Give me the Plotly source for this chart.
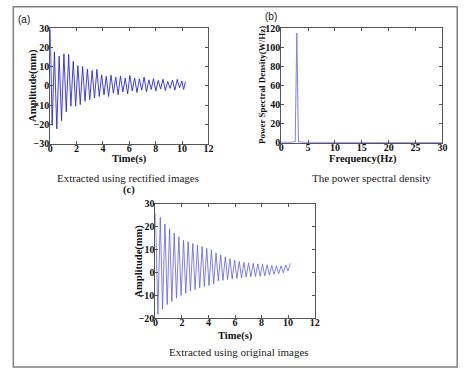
import plotly.graph_objects as go

W, H = 474, 388

# ---------------- data ----------------
# (a) extracted using rectified images: extrema of the displacement signal
a_start_t = [0.0]
a_start_v = [29.5]
a_peak_t = [0.32, 0.68, 1.04, 1.40, 1.75, 2.10, 2.46, 2.82, 3.18, 3.54, 3.90, 4.25, 4.61, 4.97,
            5.33, 5.69, 6.04, 6.40, 6.76, 7.12, 7.48, 7.83, 8.19, 8.55, 8.91, 9.27, 9.63, 9.98, 10.25]
a_peak_v = [17.7, 15.5, 16.7, 16.4, 12.8, 10.6, 10.1, 8.8, 8.0, 8.6, 5.8, 5.0, 5.6, 4.6,
            5.2, 4.1, 5.5, 4.2, 3.6, 4.6, 3.2, 3.8, 2.9, 3.5, 2.4, 3.0, 3.4, 2.6, 2.2]
a_trough_t = [0.15, 0.50, 0.86, 1.22, 1.57, 1.93, 2.28, 2.64, 3.00, 3.36, 3.72, 4.08, 4.43, 4.79,
              5.15, 5.51, 5.87, 6.22, 6.58, 6.94, 7.30, 7.66, 8.01, 8.37, 8.73, 9.09, 9.45, 9.81, 10.12]
a_trough_v = [-20.5, -22.3, -18.1, -13.5, -10.5, -10.5, -9.7, -8.0, -7.2, -6.3, -5.5, -4.6, -5.5, -3.8,
              -4.6, -3.2, -4.2, -2.6, -3.4, -2.2, -3.0, -1.8, -2.6, -1.6, -2.4, -1.3, -2.2, -1.0, -1.8]

# (b) power spectral density
psd_f = [0.0, 1.0, 2.0, 2.6, 2.9, 3.2, 4.0, 10.0, 20.0, 30.0]
psd_v = [0.4, 0.3, 0.4, 1.0, 115.0, 1.0, 0.4, 0.2, 0.1, 0.1]

# (c) extracted using original images
c_start_t = [0.0]
c_start_v = [26.0]
c_peak_t = [0.37, 0.72, 1.07, 1.42, 1.77, 2.12, 2.47, 2.82, 3.17, 3.52, 3.87, 4.22, 4.57, 4.92,
            5.27, 5.62, 5.97, 6.32, 6.67, 7.02, 7.37, 7.72, 8.07, 8.42, 8.77, 9.12, 9.47, 9.82, 10.17]
c_peak_v = [24.0, 21.1, 19.0, 17.2, 15.5, 14.0, 13.3, 12.6, 11.9, 11.2, 10.5, 9.8, 8.4, 7.6,
            6.8, 6.0, 5.3, 4.8, 4.4, 4.1, 3.9, 3.7, 3.5, 3.3, 3.0, 2.8, 2.8, 3.2, 3.9]
c_trough_t = [0.19, 0.54, 0.89, 1.24, 1.59, 1.94, 2.29, 2.64, 2.99, 3.34, 3.69, 4.04, 4.39, 4.74,
              5.09, 5.44, 5.79, 6.14, 6.49, 6.84, 7.19, 7.54, 7.89, 8.24, 8.59, 8.94, 9.29, 9.64, 9.99]
c_trough_v = [-18.4, -16.2, -14.1, -12.7, -11.3, -10.1, -9.2, -8.2, -7.6, -6.8, -6.2, -5.8, -5.1, -3.7,
              -3.5, -3.2, -3.0, -2.7, -2.4, -2.1, -1.9, -1.8, -1.7, -1.5, -1.2, -0.9, -0.6, -0.2, 0.6]

time_ticks = [0, 2, 4, 6, 8, 10, 12]
amp_ticks_a = [-30, -20, -10, 0, 10, 20, 30]
freq_ticks = [0, 5, 10, 15, 20, 25, 30]
psd_ticks = [0, 20, 40, 60, 80, 100, 120]
amp_ticks_c = [-20, -10, 0, 10, 20, 30]


def merge(st, sv, pt, pv, tt, tv):
    pts = sorted(zip(st + pt + tt, sv + pv + tv))
    return [p[0] for p in pts], [p[1] for p in pts]


a_t, a_v = merge(a_start_t, a_start_v, a_peak_t, a_peak_v, a_trough_t, a_trough_v)
c_t, c_v = merge(c_start_t, c_start_v, c_peak_t, c_peak_v, c_trough_t, c_trough_v)


def fx(p):
    return p / W


def fy(p):
    return 1 - p / H


fig = go.Figure()
fig.add_trace(go.Scatter(x=a_t, y=a_v, mode='lines', line=dict(color='#2a2ae0', width=0.9),
                         xaxis='x', yaxis='y', showlegend=False, hoverinfo='skip'))
fig.add_trace(go.Scatter(x=psd_f, y=psd_v, mode='lines', line=dict(color='#8080dd', width=1),
                         xaxis='x2', yaxis='y2', showlegend=False, hoverinfo='skip'))
fig.add_trace(go.Scatter(x=c_t, y=c_v, mode='lines', line=dict(color='#6060ea', width=0.8),
                         xaxis='x3', yaxis='y3', showlegend=False, hoverinfo='skip'))

tickfont = dict(family='Liberation Serif', size=10, color='#111', weight='bold')
base = dict(showline=True, linecolor='#555', linewidth=1, mirror='allticks', ticks='inside',
            ticklen=3, tickcolor='#555', tickwidth=1, showgrid=False, zeroline=False,
            tickfont=tickfont, fixedrange=True)
xb = dict(base, ticklabelstandoff=-5)
yb = dict(base, ticklabelstandoff=-2)

fig.update_layout(
    width=W, height=H, margin=dict(l=0, r=0, t=0, b=0),
    paper_bgcolor='white', plot_bgcolor='white',
    xaxis=dict(xb, domain=[fx(48), fx(209)], range=[0, 12], tickvals=time_ticks, anchor='y'),
    yaxis=dict(yb, domain=[fy(142), fy(23)], range=[-30, 30], tickvals=amp_ticks_a, anchor='x'),
    xaxis2=dict(xb, domain=[fx(283), fx(447)], range=[0, 30], tickvals=freq_ticks, anchor='y2'),
    yaxis2=dict(yb, domain=[fy(141), fy(23)], range=[0, 120], tickvals=psd_ticks, anchor='x2'),
    xaxis3=dict(xb, domain=[fx(155), fx(317)], range=[0, 12], tickvals=time_ticks, anchor='y3'),
    yaxis3=dict(yb, domain=[fy(322), fy(204)], range=[-20, 30], tickvals=amp_ticks_c, anchor='x3'),
)

bold = dict(family='Liberation Serif', size=10.5, color='#111', weight='bold')
cap = dict(family='Liberation Serif', size=11, color='#222')
lab = dict(family='Liberation Sans', size=10, color='#111')


def ann(text, x, y, font, angle=0):
    fig.add_annotation(text=text, x=fx(x), y=fy(y), xref='paper', yref='paper', showarrow=False,
                       font=font, textangle=angle, xanchor='center', yanchor='middle')


ann('(a)', 21, 14, lab)
ann('(b)', 273, 11, lab)
ann('(c)', 128, 190, dict(family='Liberation Serif', size=10.5, color='#111', weight='bold'))

ann('Amplitude(mm)', 31, 82, bold, -90)
ann('Time(s)', 128.5, 157.5, bold)
ann('Extracted using rectified images', 127.5, 177, cap)

ann('Power Spectral Density(W/Hz)', 264, 82, dict(bold, size=9), -90)
ann('Frequency(Hz)', 366, 157.5, bold)
ann('The power spectral density', 375, 177, cap)

ann('Amplitude(mm)', 138, 263, bold, -90)
ann('Time(s)', 236, 341, bold)
ann('Extracted using original images', 240, 357, cap)

# figure border
fig.add_shape(type='rect', xref='paper', yref='paper', x0=fx(10.5), x1=fx(462), y0=fy(372.5), y1=fy(0.8),
              line=dict(color='#808080', width=1.5), fillcolor='rgba(0,0,0,0)')

fig.write_html('out.html', config={'displayModeBar': False},
               post_script="document.body.style.margin='0';document.body.style.padding='0';")
